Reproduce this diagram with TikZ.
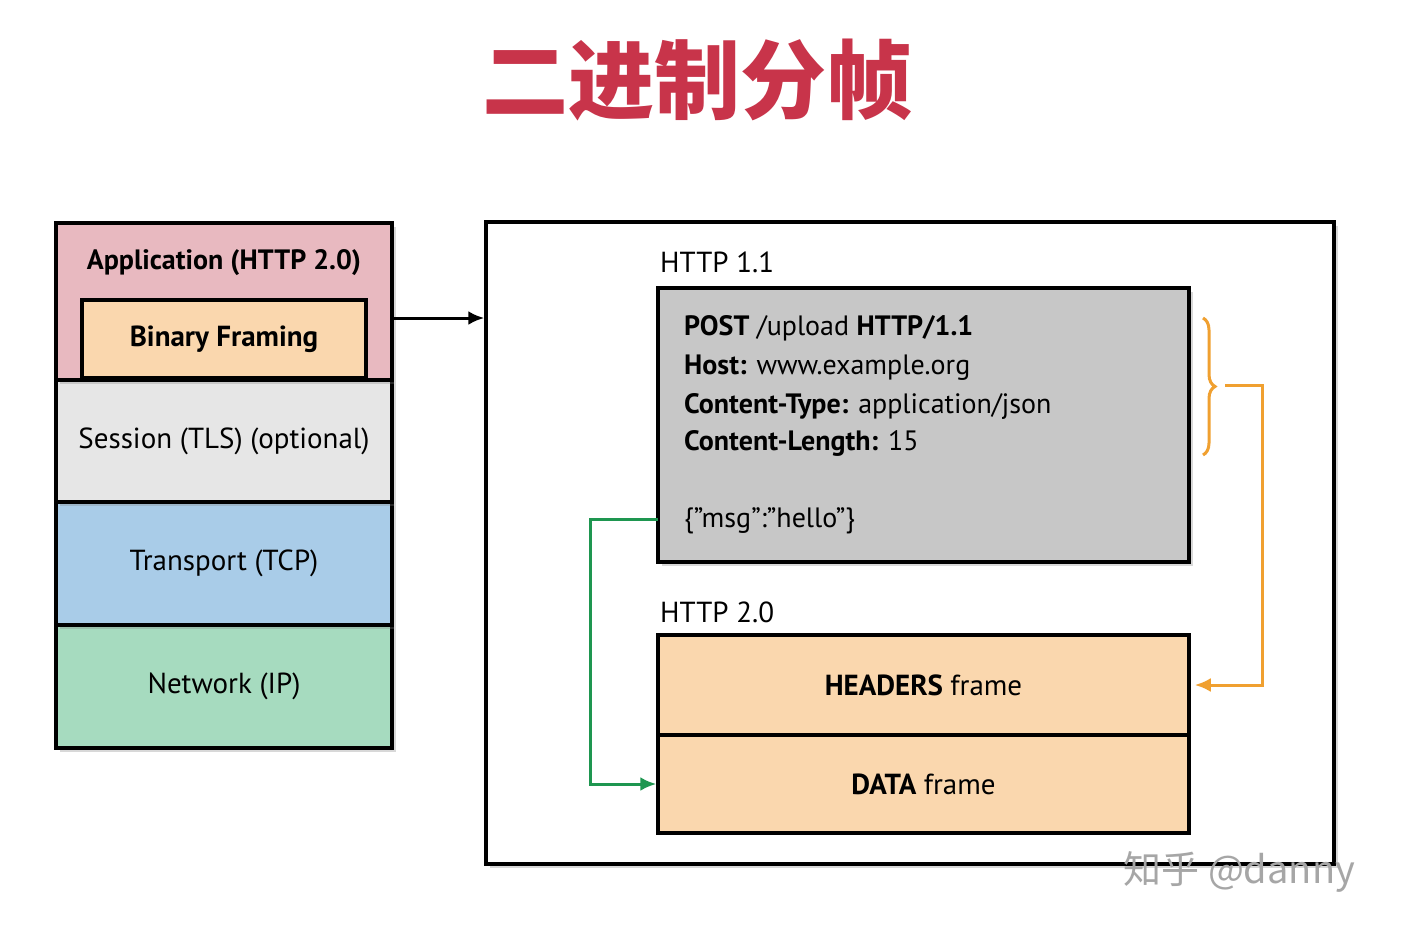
\documentclass[tikz,border=0pt]{standalone}
\usepackage{fontspec}
\setmainfont{PT Sans}
\newfontfamily\cjk{Noto Sans CJK SC}
\usetikzlibrary{decorations.pathreplacing,shadows,arrows.meta}
\begin{document}
\begin{tikzpicture}[x=1pt,y=-1pt,
 layer/.style={draw=black,line width=3.5pt,drop shadow={shadow xshift=4pt,shadow yshift=-4pt,opacity=0.3}},
 lbl/.style={font=\fontsize{29}{32}\selectfont,inner sep=0pt},
 code/.style={font=\fontsize{28}{32}\selectfont,inner sep=0pt,anchor=west},
 frame/.style={draw=black,line width=3.5pt},
 tip/.style={-{Latex[length=16pt,width=14pt]}}]
\definecolor{pinkc}{HTML}{E8B9C0}\definecolor{orc}{HTML}{FAD7AE}
\definecolor{greyc}{HTML}{E6E6E6}\definecolor{bluec}{HTML}{A9CCE8}
\definecolor{greenc}{HTML}{A6DBBF}\definecolor{titlec}{HTML}{C8344A}
\definecolor{brc}{HTML}{F0A030}\definecolor{grc}{HTML}{1E9650}
\useasboundingbox[fill=white] (0,0) rectangle (1418,936);
\node[font=\cjk\bfseries\fontsize{86}{96}\selectfont,text=titlec] (title) at (697,80) {二进制分帧};
% stack
\node[layer,fill=greenc,minimum width=336pt,minimum height=123pt,lbl] (net) at (224,686.5) {Network (IP)};
\node[layer,fill=bluec,minimum width=336pt,minimum height=123pt,lbl] (tr) at (224,563.5) {Transport (TCP)};
\node[layer,fill=greyc,minimum width=336pt,minimum height=122pt,lbl] (ses) at (224,441) {Session (TLS) (optional)};
\node[layer,fill=pinkc,minimum width=336pt,minimum height=157pt] (app) at (224,301.5) {};
\node[lbl,font=\bfseries\fontsize{28}{30}\selectfont] (appl) at (224,263) {Application (HTTP 2.0)};
\node[frame,fill=orc,minimum width=284pt,minimum height=78pt,lbl,font=\bfseries\fontsize{29}{30}\selectfont] (bf) at (224,339) {Binary Framing};
% big box
\node[layer,fill=white,minimum width=848pt,minimum height=642pt] (big) at (910,543) {};
\coordinate (arrs) at (392,318);
\draw[tip,line width=3pt] (arrs) -- (arrs -| big.west);
\node[lbl,anchor=west] (h11) at (660,262) {HTTP 1.1};
\node[frame,fill=black!22,minimum width=531pt,minimum height=274pt,drop shadow={shadow xshift=4pt,shadow yshift=-4pt,opacity=0.3}] (gb) at (923.5,425) {};
\node[code] (l1) at (684,328) {\textbf{POST} /upload \textbf{HTTP/1.1}};
\node[code] (l2) at (684,368) {\textbf{Host:} www.example.org};
\node[code] (l3) at (684,406) {\textbf{Content-Type:} application/json};
\node[code] (l4) at (684,443) {\textbf{Content-Length:} 15};
\node[code] (l5) at (684,521) {\{”msg”:”hello”\}};
\node[lbl,anchor=west] (h20) at (660,612) {HTTP 2.0};
\node[frame,fill=orc,minimum width=531pt,minimum height=100pt,lbl,font=\bfseries\fontsize{29}{32}\selectfont] (hf) at (923.5,685) {HEADERS \mdseries frame};
\node[frame,fill=orc,minimum width=531pt,minimum height=98pt,lbl,font=\bfseries\fontsize{29}{32}\selectfont] (df) at (923.5,784) {DATA \mdseries frame};
% brace and connectors
\draw[brc,line width=3pt,decorate,decoration={brace,amplitude=12pt}] (1203,318) -- (1203,455);
\coordinate (bm) at (1225,385);
\coordinate (he) at ([xshift=4pt]hf.east);
\draw[brc,line width=3pt,tip] (bm) -- (1262,385) -- (1262,685) -- (he);
\coordinate (gs) at (658,519);
\draw[grc,line width=3pt,tip] (gs) -- (590,519) -- (590,784) -- (df.west);
\node[text=black!35,font=\cjk\fontsize{38}{40}\selectfont,anchor=west] (wm) at (1120,872) {知乎 @danny};
\end{tikzpicture}
\end{document}
